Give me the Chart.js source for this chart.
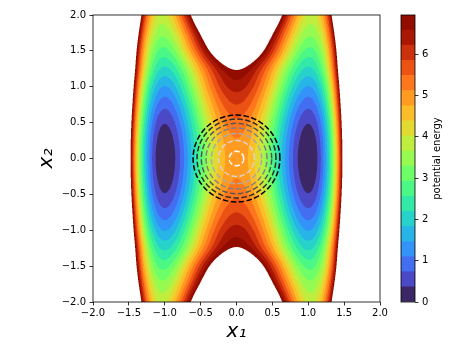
<!DOCTYPE html>
<html><head><meta charset="utf-8">
<script src="https://cdn.jsdelivr.net/npm/chart.js@4.4.1/dist/chart.umd.min.js"></script>
<style>
html,body{margin:0;padding:0;background:#fff;}
#wrap{position:relative;width:474px;height:355px;overflow:hidden;}
#wrap canvas{position:absolute;left:0;top:0;}
</style></head><body>
<div id="wrap"><canvas id="main" width="474" height="355"></canvas><canvas id="cbar" width="474" height="355"></canvas></div>
<script>
// ---------------- data ----------------
// contour level boundaries (potential energy)
const energyLevels = [0, 0.366, 0.732, 1.097, 1.463, 1.829, 2.195, 2.561, 2.926, 3.292,
  3.658, 4.024, 4.389, 4.755, 5.121, 5.487, 5.853, 6.218, 6.584, 6.95];
// cross-section samples of the surface along |x2|
const x2Samples     = [0, 0.25, 0.5, 0.75, 1.0, 1.25, 1.5, 1.75, 2.0];
const valleyEnergy  = [0, 0.10, 0.39, 0.85, 1.44, 2.11, 2.79, 3.40, 3.90];   // energy at the well bottom
const wallStiffness = [5.0, 5.0, 5.0, 5.0, 4.95, 4.9, 5.15, 5.6, 6.7];       // quartic wall strength in x1
const wellCentre    = [1.00, 1.00, 1.00, 1.00, 1.00, 1.00, 1.02, 1.03, 1.04];// |x1| of the well bottom
// dashed circles around the saddle
const circleCentre = [0, 0];
const circleRadii  = [0.605, 0.55, 0.49, 0.425, 0.35, 0.25, 0.10];
// tick labels
const xTickValues = [-2, -1.5, -1, -0.5, 0, 0.5, 1, 1.5, 2];
const yTickValues = [-2, -1.5, -1, -0.5, 0, 0.5, 1, 1.5, 2];
const cbarTickValues = [0, 1, 2, 3, 4, 5, 6];
const xAxisLabel = 'x₁';
const yAxisLabel = 'x₂';
const cbarLabel = 'potential energy';

// ---------------- styles ----------------
const circleColors = ['#000000', '#2b2b2b', '#555555', '#808080', '#aaaaaa', '#d5d5d5', '#ffffff'];
function turbo(t) {
  t = Math.min(1, Math.max(0, t));
  const r = 0.13572138 + t*(4.61539260 + t*(-42.66032258 + t*(132.13108234 + t*(-152.94239396 + t*59.28637943))));
  const g = 0.09140261 + t*(2.19418839 + t*(4.84296658 + t*(-14.18503333 + t*(4.27729857 + t*2.82956604))));
  const b = 0.10667330 + t*(12.64194608 + t*(-60.58204836 + t*(110.36276771 + t*(-89.90310912 + t*27.34824973))));
  return [r, g, b].map(c => Math.round(255 * Math.min(1, Math.max(0, c))));
}
const lo = energyLevels[0], hi = energyLevels[energyLevels.length - 1];
const bandRGB = energyLevels.slice(0, -1).map((v, k) => turbo(((v + energyLevels[k + 1]) / 2 - lo) / (hi - lo)));
const bandCSS = bandRGB.map(c => `rgb(${c[0]},${c[1]},${c[2]})`);

Chart.defaults.font.family = "'DejaVu Sans', sans-serif";
Chart.defaults.color = '#000';

function fmt(v) { return (v < 0 ? '\u2212' : '') + Math.abs(v).toFixed(1); }

// smooth profile lookup through the sampled cross-sections
function profile(arr, t) {
  const h = x2Samples[1] - x2Samples[0];
  const n = arr.length - 1;
  const u = t / h;
  let i = Math.floor(u); if (i > n - 1) i = n - 1; if (i < 0) i = 0;
  const f = u - i;
  const get = k => (k < 0 ? arr[-k] : (k > n ? 2 * arr[n] - arr[2 * n - k] : arr[k]));
  const p0 = get(i - 1), p1 = get(i), p2 = get(i + 1), p3 = get(i + 2);
  return 0.5 * (2 * p1 + (-p0 + p2) * f + (2 * p0 - 5 * p1 + 4 * p2 - p3) * f * f + (-p0 + 3 * p1 - 3 * p2 + p3) * f * f * f);
}
function bandIndex(v) {
  if (v < energyLevels[0] || v > hi) return -1;
  for (let k = 0; k < energyLevels.length - 1; k++) if (v <= energyLevels[k + 1]) return k;
  return -1;
}

const contourFill = {
  id: 'contourFill',
  beforeDatasetsDraw(chart) {
    const { ctx, chartArea: a, scales: { x: sx, y: sy } } = chart;
    const L = Math.floor(a.left), T = Math.floor(a.top), R = Math.ceil(a.right), B = Math.ceil(a.bottom);
    const w = R - L, h = B - T, S = 3;
    const xs = new Float64Array(w * S);
    for (let i = 0; i < w * S; i++) xs[i] = sx.getValueForPixel(L + (i + 0.5) / S);
    const rows = [];
    for (let j = 0; j < h * S; j++) {
      const x2 = sy.getValueForPixel(T + (j + 0.5) / S);
      const t = Math.abs(x2);
      const c = profile(wellCentre, t);
      rows.push({ A: profile(wallStiffness, t), m: c * c, g: profile(valleyEnergy, t) });
    }
    const off = document.createElement('canvas'); off.width = w; off.height = h;
    const octx = off.getContext('2d');
    const img = octx.createImageData(w, h);
    for (let j = 0; j < h; j++) {
      for (let i = 0; i < w; i++) {
        let r = 0, g = 0, b = 0;
        for (let sj = 0; sj < S; sj++) {
          const p = rows[j * S + sj];
          for (let si = 0; si < S; si++) {
            const x1 = xs[i * S + si];
            const d = x1 * x1 - p.m;
            const v = p.A * d * d + p.g;
            const k = bandIndex(v);
            if (k < 0) { r += 255; g += 255; b += 255; }
            else { const c = bandRGB[k]; r += c[0]; g += c[1]; b += c[2]; }
          }
        }
        const o = (j * w + i) * 4, n = S * S;
        img.data[o] = r / n; img.data[o + 1] = g / n; img.data[o + 2] = b / n; img.data[o + 3] = 255;
      }
    }
    octx.putImageData(img, 0, 0);
    ctx.save();
    ctx.beginPath(); ctx.rect(a.left, a.top, a.right - a.left, a.bottom - a.top); ctx.clip();
    ctx.drawImage(off, L, T);
    ctx.restore();
  }
};
const whiteBg = {
  id: 'whiteBg',
  beforeDraw(chart) { const c = chart.ctx; c.save(); c.fillStyle = '#fff'; c.fillRect(0, 0, chart.width, chart.height); c.restore(); }
};
const frame = {
  id: 'frame',
  afterDraw(chart) {
    const { ctx, chartArea: a } = chart;
    ctx.save(); ctx.strokeStyle = '#000'; ctx.lineWidth = 0.8;
    ctx.strokeRect(a.left, a.top, a.right - a.left, a.bottom - a.top);
    ctx.restore();
  }
};

// circle datasets (points on each circle come from centre + radius)
const circleSets = circleRadii.map((r, k) => {
  const pts = [];
  for (let d = 0; d <= 360; d += 2) {
    const th = d * Math.PI / 180;
    pts.push({ x: circleCentre[0] + r * Math.cos(th), y: circleCentre[1] + r * Math.sin(th) });
  }
  return { data: pts, showLine: true, borderColor: circleColors[k], borderWidth: 1.5,
    borderDash: [5.55, 2.4], pointRadius: 0, fill: false, tension: 0 };
});

new Chart(document.getElementById('main'), {
  type: 'scatter',
  data: { datasets: circleSets },
  options: {
    responsive: false, animation: false, events: [],
    layout: { padding: { left: 0, top: 15, right: 94, bottom: 0 } },
    plugins: { legend: { display: false }, tooltip: { enabled: false } },
    scales: {
      x: {
        type: 'linear', min: -2, max: 2,
        afterBuildTicks: s => { s.ticks = xTickValues.map(v => ({ value: v })); },
        afterFit: s => { s.height = 53; s.paddingLeft = 0; s.paddingRight = 0; },
        ticks: { autoSkip: false, maxRotation: 0, padding: 2, font: { size: 10 }, color: '#000', callback: v => fmt(v) },
        grid: { drawOnChartArea: false, drawTicks: true, tickLength: 3.5, tickWidth: 0.8, tickColor: '#000' },
        border: { display: false },
        title: { display: true, text: xAxisLabel, color: '#000', font: { size: 20, style: 'italic' }, padding: { top: 0, bottom: 11.6 } }
      },
      y: {
        type: 'linear', min: -2, max: 2,
        afterBuildTicks: s => { s.ticks = yTickValues.map(v => ({ value: v })); },
        afterFit: s => { s.width = 93; s.paddingTop = 0; s.paddingBottom = 0; },
        ticks: { autoSkip: false, padding: 3.5, font: { size: 10 }, color: '#000', callback: v => fmt(v) },
        grid: { drawOnChartArea: false, drawTicks: true, tickLength: 3.5, tickWidth: 0.8, tickColor: '#000' },
        border: { display: false },
        title: { display: true, text: yAxisLabel, color: '#000', font: { size: 20, style: 'italic' }, padding: { top: 34.4, bottom: 0 } }
      }
    }
  },
  plugins: [whiteBg, contourFill, frame]
});

// ---------------- colour bar ----------------
const cbarTitle = {
  id: 'cbarTitle',
  afterDraw(chart) {
    const { ctx, chartArea: a } = chart;
    ctx.save();
    ctx.translate(437, (a.top + a.bottom) / 2);
    ctx.rotate(-Math.PI / 2);
    ctx.font = "10px 'DejaVu Sans', sans-serif";
    ctx.fillStyle = '#000'; ctx.textAlign = 'center'; ctx.textBaseline = 'middle';
    ctx.fillText(cbarLabel, 0, 0);
    ctx.restore();
  }
};
new Chart(document.getElementById('cbar'), {
  type: 'bar',
  data: {
    labels: [cbarLabel],
    datasets: bandCSS.map((c, k) => ({
      data: [[energyLevels[k], energyLevels[k + 1]]], backgroundColor: c, borderWidth: 0,
      barPercentage: 1, categoryPercentage: 1, grouped: false
    }))
  },
  options: {
    responsive: false, animation: false, events: [],
    layout: { padding: { left: 401, top: 15, right: 19, bottom: 53 } },
    plugins: { legend: { display: false }, tooltip: { enabled: false } },
    scales: {
      x: { display: false },
      y: {
        position: 'right', min: energyLevels[0], max: hi,
        afterBuildTicks: s => { s.ticks = cbarTickValues.map(v => ({ value: v })); },
        afterFit: s => { s.width = 40; s.paddingTop = 0; s.paddingBottom = 0; },
        ticks: { padding: 3.5, font: { size: 10 }, color: '#000', callback: v => String(v) },
        grid: { drawOnChartArea: false, drawTicks: true, tickLength: 3.5, tickWidth: 0.8, tickColor: '#000' },
        border: { display: false }
      }
    }
  },
  plugins: [frame, cbarTitle]
});
</script>
</body></html>
